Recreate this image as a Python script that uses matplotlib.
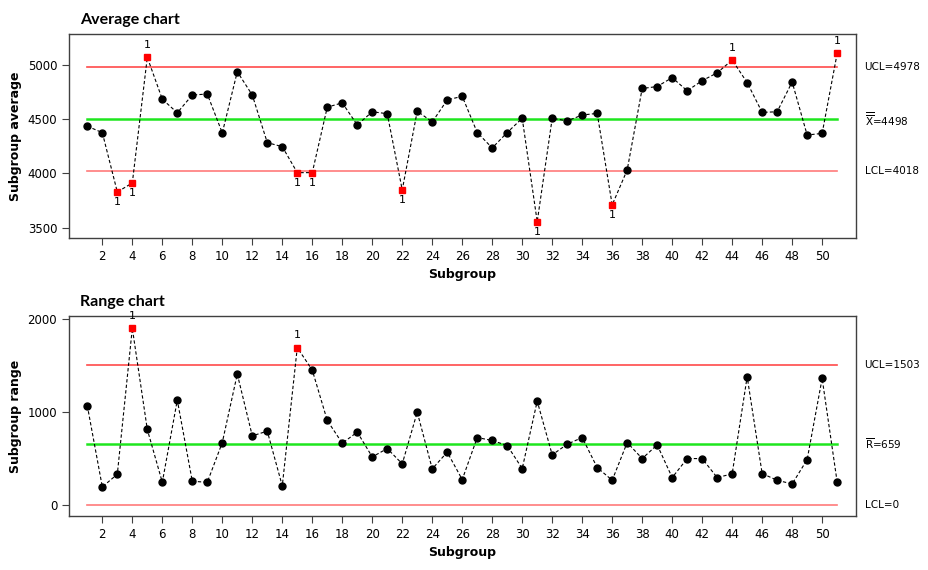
import numpy as np
import matplotlib
matplotlib.use("Agg")
import matplotlib.pyplot as plt

subgroup = list(range(1, 52))

averages = [4433, 4374, 3828, 3911, 5067, 4681, 4557, 4720, 4729, 4371,
            4934, 4720, 4282, 4245, 4006, 4006, 4608, 4648, 4445, 4566,
            4548, 3847, 4572, 4472, 4675, 4708, 4375, 4233, 4375, 4506,
            3555, 4506, 4482, 4536, 4551, 3709, 4031, 4780, 4798, 4880,
            4759, 4852, 4924, 5042, 4834, 4560, 4566, 4840, 4352, 4367,
            5102]

ranges = [1067, 191, 328, 1903, 811, 241, 1128, 252, 241, 670,
          1409, 742, 793, 202, 1694, 1452, 908, 663, 782, 515,
          605, 440, 998, 386, 566, 270, 724, 692, 638, 389,
          1117, 537, 652, 724, 400, 263, 670, 497, 645, 292,
          497, 497, 292, 332, 1380, 335, 263, 223, 486, 1362,
          245]

avg_limits = [4978, 4498, 4018]
rng_limits = [1503, 659, 0]
avg_labels = ["UCL=4978", r"$\overline{\overline{\mathrm{X}}}$=4498", "LCL=4018"]
rng_labels = ["UCL=1503", r"$\overline{\mathrm{R}}$=659", "LCL=0"]

plt.rcParams["mathtext.fontset"] = "dejavusans"

fig = plt.figure(figsize=(9.29, 5.70), dpi=100)
ax1 = fig.add_axes([0.0743, 0.5825, 0.847, 0.358])
ax2 = fig.add_axes([0.0743, 0.0947, 0.847, 0.351])


def draw(ax, x, y, limits, labels, title, ylabel, ylim, yticks):
    x = np.array(x)
    y = np.array(y)
    ucl, cl, lcl = limits
    ax.plot([x[0], x[-1]], [ucl, ucl], color="#ff4a4a", lw=1.2, zorder=1)
    ax.plot([x[0], x[-1]], [lcl, lcl], color="#ff7a7a", lw=1.2, zorder=1)
    ax.plot([x[0], x[-1]], [cl, cl], color="#1ee61e", lw=1.8, zorder=1)
    ax.plot(x, y, color="black", lw=0.8, dashes=(3, 2), zorder=2)
    bad = (y > ucl) | (y < lcl)
    ax.plot(x[~bad], y[~bad], "o", color="black", ms=5, zorder=3)
    ax.plot(x[bad], y[bad], "s", color="#ff0000", ms=5, zorder=3)
    for xi, yi in zip(x[bad], y[bad]):
        off = 9 if yi > ucl else -7.5
        ax.annotate("1", (xi, yi), xytext=(0, off), textcoords="offset points",
                    ha="center", va="center", fontsize=8)
    for val, lab in zip(limits, labels):
        ax.text(1.011, val, lab, transform=ax.get_yaxis_transform(),
                ha="left", va="center", fontsize=7.5)
    ax.set_xlim(-0.22, 52.25)
    ax.set_ylim(*ylim)
    ax.set_yticks(yticks)
    ax.set_xticks(range(2, 51, 2))
    ax.tick_params(labelsize=8.5, length=5, width=0.8, color="#404040")
    for s in ax.spines.values():
        s.set_color("#404040")
        s.set_linewidth(1)
    ax.set_xlabel("Subgroup", fontsize=9, fontweight="bold", labelpad=4)
    ax.set_ylabel(ylabel, fontsize=9, fontweight="bold", labelpad=4)
    ax.set_title(title, loc="left", fontsize=11.5, fontweight="bold",
                 family="Lato", x=0.014, pad=7)


draw(ax1, subgroup, averages, avg_limits, avg_labels, "Average chart",
     "Subgroup average", (3405, 5282), [3500, 4000, 4500, 5000])
draw(ax2, subgroup, ranges, rng_limits, rng_labels, "Range chart",
     "Subgroup range", (-123, 2036), [0, 1000, 2000])

fig.savefig("out.png", dpi=100)
